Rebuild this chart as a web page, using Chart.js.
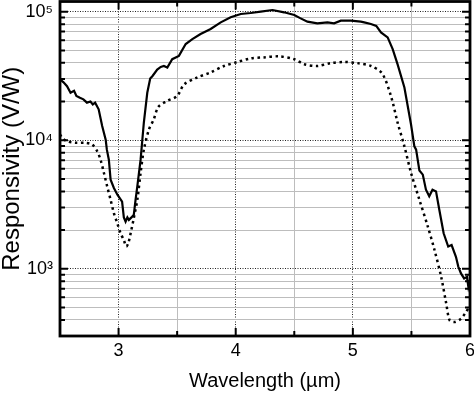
<!DOCTYPE html>
<html>
<head>
<meta charset="utf-8">
<script src="https://cdn.jsdelivr.net/npm/chart.js@4"></script>
<style>
html,body{margin:0;padding:0;background:#fff;}
canvas{display:block;}
</style>
</head>
<body>
<canvas id="c" width="474" height="394"></canvas>
<script>
// Solid curve (upper)
const solidWavelength = [2.50,2.53,2.56,2.59,2.62,2.64,2.67,2.70,2.73,2.76,2.78,2.80,2.83,2.86,2.89,2.90,2.917,2.932,2.96,2.99,3.03,3.045,3.06,3.075,3.088,3.11,3.13,3.145,3.16,3.188,3.216,3.245,3.27,3.29,3.33,3.36,3.387,3.416,3.458,3.515,3.573,3.63,3.70,3.786,3.872,3.957,4.043,4.128,4.214,4.314,4.413,4.50,4.55,4.612,4.697,4.783,4.84,4.897,4.983,5.068,5.097,5.154,5.20,5.24,5.297,5.34,5.382,5.44,5.497,5.525,5.54,5.568,5.597,5.624,5.652,5.68,5.71,5.738,5.775,5.814,5.843,5.88,5.90,5.923,5.95,5.974,5.986,6.0];
const solidResponsivity = [29800,28200,26300,23400,24200,22100,21400,20800,19600,20000,19000,19600,17400,12900,10100,8450,7060,4930,4250,3770,3330,2510,2330,2510,2400,2510,2630,3440,4370,7060,13800,23400,30200,31600,35500,37200,37800,36800,42700,45300,56000,61200,67000,73300,82600,90400,95900,97700,100000,103000,98900,94200,89100,83600,81100,82600,81100,85100,85100,83600,82600,80200,77600,69000,63100,51200,38900,25700,13200,8970,8450,5820,5400,4120,3660,4120,4000,2880,1890,1490,1530,1240,1040,920,841,865,724,817];

// Dotted curve (lower)
const dottedWavelength = [2.50,2.52,2.56,2.632,2.718,2.775,2.818,2.846,2.875,2.903,2.932,2.96,2.989,3.017,3.045,3.066,3.083,3.103,3.13,3.16,3.188,3.216,3.259,3.30,3.34,3.416,3.50,3.56,3.67,3.786,3.90,4.01,4.128,4.24,4.37,4.50,4.585,4.697,4.81,4.926,5.04,5.154,5.25,5.325,5.382,5.44,5.497,5.568,5.64,5.697,5.754,5.797,5.826,5.866,5.923,5.966,5.994];
const dottedResponsivity = [11100,10400,9820,9550,9550,9250,8200,7060,5560,4370,3440,2710,2260,1890,1670,1490,1580,1890,2480,3440,5560,8450,12100,14500,18200,20200,22100,27200,30700,33700,37800,40500,43300,44100,44900,42700,39000,37800,39800,40600,39800,37800,33100,22100,13700,8970,5560,3440,2130,1400,865,537,398,385,409,461,505];

// Axes
const xRange = [2.5, 6];
const xGridValues = [3, 3.5, 4, 4.5, 5, 5.5, 6];
const xTickLabels = {3:'3', 4:'4', 5:'5', 6:'6'};
const yRange = [300, 120000];
const yGridValues = [300,400,500,600,700,800,900,1000,2000,3000,4000,5000,6000,7000,8000,9000,10000,20000,30000,40000,50000,60000,70000,80000,90000,100000];
const yMajorValues = [1000, 10000, 100000];
const yTickLabels = {1000:'10\u00B3', 10000:'10\u2074', 100000:'10\u2075'};

const FONT = "'Liberation Sans', Arial, sans-serif";

const isXMajor = v => Object.prototype.hasOwnProperty.call(xTickLabels, v);
const isYMajor = v => yMajorValues.includes(v);

const frameTicks = {
  id: 'frameTicks',
  afterDraw(chart) {
    const {ctx, chartArea: a, scales: {x, y}} = chart;
    ctx.save();
    ctx.strokeStyle = '#000';
    ctx.lineWidth = 2;
    ctx.beginPath();
    x.ticks.forEach(t => {
      const px = x.getPixelForValue(t.value);
      const L = isXMajor(t.value) ? 8 : 5;
      ctx.moveTo(px, a.bottom); ctx.lineTo(px, a.bottom - L);
      ctx.moveTo(px, a.top); ctx.lineTo(px, a.top + L);
    });
    y.ticks.forEach(t => {
      const py = y.getPixelForValue(t.value);
      const L = isYMajor(t.value) ? 8 : 5;
      ctx.moveTo(a.left, py); ctx.lineTo(a.left + L, py);
      ctx.moveTo(a.right, py); ctx.lineTo(a.right - L, py);
    });
    ctx.stroke();
    ctx.lineWidth = 2.8;
    ctx.strokeRect(a.left, a.top, a.right - a.left, a.bottom - a.top);
    ctx.restore();
  }
};

new Chart(document.getElementById('c'), {
  type: 'line',
  data: {
    datasets: [
      {
        label: 'solid',
        data: solidWavelength.map((w, i) => ({x: w, y: solidResponsivity[i]})),
        borderColor: '#000',
        borderWidth: 2.2,
        pointRadius: 0,
        tension: 0,
        fill: false
      },
      {
        label: 'dotted',
        data: dottedWavelength.map((w, i) => ({x: w, y: dottedResponsivity[i]})),
        borderColor: '#000',
        borderWidth: 2.5,
        borderDash: [2.5, 3.5],
        borderCapStyle: 'butt',
        pointRadius: 0,
        tension: 0.3,
        fill: false
      }
    ]
  },
  options: {
    responsive: false,
    devicePixelRatio: 1,
    animation: false,
    layout: {padding: {top: 1.5, right: 4, bottom: 0, left: 0}},
    plugins: {legend: {display: false}, tooltip: {enabled: false}},
    scales: {
      x: {
        type: 'linear',
        min: xRange[0],
        max: xRange[1],
        afterBuildTicks: s => { s.ticks = xGridValues.map(v => ({value: v})); },
        afterFit: s => { s.height = 58; s.paddingLeft = 0; s.paddingRight = 0; },
        ticks: {
          autoSkip: false,
          maxRotation: 0,
          padding: 4,
          color: '#000',
          font: {family: FONT, size: 18},
          callback: v => xTickLabels[v] || ''
        },
        grid: {
          drawTicks: false,
          lineWidth: 1,
          color: c => (c.tick && isXMajor(c.tick.value)) ? '#222' : '#bdbdbd'
        },
        border: {
          display: false,
          dash: c => (c.tick && isXMajor(c.tick.value)) ? [1, 1.5] : []
        },
        title: {
          display: true,
          text: 'Wavelength (\u00B5m)',
          color: '#000',
          font: {family: FONT, size: 20},
          padding: {top: 0, bottom: 1}
        }
      },
      y: {
        type: 'logarithmic',
        min: yRange[0],
        max: yRange[1],
        afterBuildTicks: s => { s.ticks = yGridValues.map(v => ({value: v})); },
        afterFit: s => { s.width = 60; s.paddingTop = 0; s.paddingBottom = 0; },
        ticks: {
          autoSkip: false,
          padding: 7,
          color: '#000',
          font: {family: FONT, size: 18},
          callback: v => yTickLabels[v] || ''
        },
        grid: {
          drawTicks: false,
          lineWidth: 1,
          color: c => (c.tick && isYMajor(c.tick.value)) ? '#222' : '#bdbdbd'
        },
        border: {
          display: false,
          dash: c => (c.tick && isYMajor(c.tick.value)) ? [1, 1.5] : []
        },
        title: {
          display: true,
          text: 'Responsivity (V/W)',
          color: '#000',
          font: {family: FONT, size: 24, lineHeight: 1},
          padding: {top: 0, bottom: 0}
        }
      }
    }
  },
  plugins: [frameTicks]
});
</script>
</body>
</html>
